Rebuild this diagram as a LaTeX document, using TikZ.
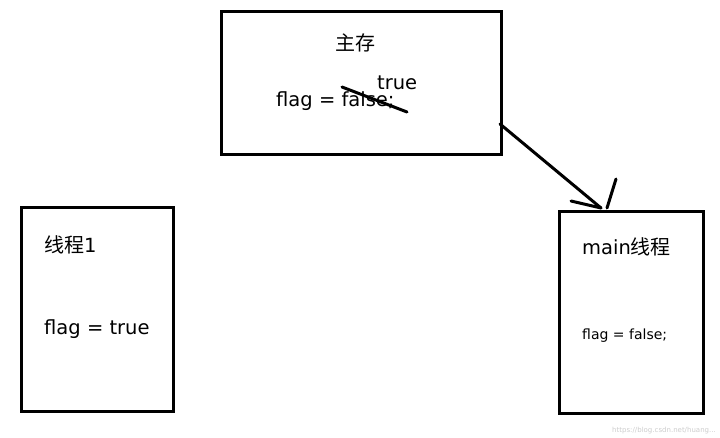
\documentclass[tikz,border=0pt]{standalone}
\usepackage{fontspec}
\setmainfont{DejaVu Sans}
\newfontfamily\cjk{Noto Sans CJK SC}
\begin{document}
\begin{tikzpicture}[x=1pt,y=-1pt,
  box/.style={draw,line width=3pt},
  lbl/.style={inner sep=0pt,anchor=west,font=\fontsize{19.5}{21}\selectfont},
  stroke/.style={line width=3pt,line cap=round}]
\useasboundingbox (0,0) rectangle (720,438);
\node[box,minimum width=280pt,minimum height=143pt,anchor=north west] (mem) at (220,10) {};
\node[box,minimum width=152pt,minimum height=204pt,anchor=north west] (t1) at (20,206) {};
\node[box,minimum width=144pt,minimum height=202pt,anchor=north west] (tm) at (558,210) {};
\node[lbl,anchor=center] (memt) at (355,43) {\cjk\fontsize{20}{21}\selectfont 主存};
\node[lbl] (mf) at (276,101) {flag = false;};
\node[lbl] (mt) at (377,83) {true};
\node[lbl] (t1t) at (44,245) {{\cjk\fontsize{20}{21}\selectfont 线程}1};
\node[lbl] (t1f) at (44,329) {flag = true};
\node[lbl] (tmt) at (582,247) {main{\cjk\fontsize{20}{21}\selectfont 线程}};
\node[lbl,font=\fontsize{14}{15}\selectfont] (tmf) at (582,336) {flag = false;};
\coordinate (s1) at (342,87); \coordinate (s2) at (407,112);
\draw[stroke] (s1) -- (s2);
\coordinate (a1) at (500,124); \coordinate (a2) at (601,208);
\coordinate (h1) at (571,201); \coordinate (h2) at (616,179); \coordinate (h3) at (607,208);
\draw[stroke] (a1) -- (a2);
\draw[stroke] (h1) -- (a2);
\draw[stroke] (h2) -- (h3);
\node[inner sep=0pt,anchor=south east,text=gray!40,font=\fontsize{7}{8}\selectfont] (wm) at (716,434) {https://blog.csdn.net/huang...};
\end{tikzpicture}
\end{document}
